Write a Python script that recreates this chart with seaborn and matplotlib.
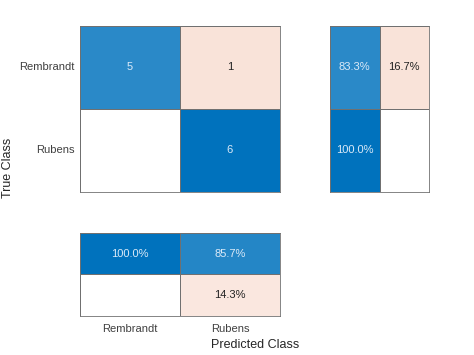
import numpy as np
import matplotlib
matplotlib.use("Agg")
import matplotlib.pyplot as plt
from matplotlib.colors import LinearSegmentedColormap
import seaborn as sns

classes = ["Rembrandt", "Rubens"]
counts = [[5, 1], [0, 6]]
row_pct = [[83.3, 16.7], [100.0, 0.0]]
col_pct = [[100.0, 85.7], [0.0, 14.3]]

sns.set_style("white")
plt.rcParams["font.family"] = ["Liberation Sans", "DejaVu Sans"]

cmap = LinearSegmentedColormap.from_list(
    "cc", [(217/255, 83/255, 25/255), (1, 1, 1), (0, 114/255, 189/255)], N=257)

LIGHT_TXT = "#dbeaf8"
DARK_TXT = "#222222"
EDGE = "#707070"
LW = 0.6


def signed(mat, diag_rule):
    m = np.array(mat, dtype=float)
    s = np.zeros_like(m)
    for i in range(m.shape[0]):
        for j in range(m.shape[1]):
            s[i, j] = m[i, j] if diag_rule(i, j) else -m[i, j]
    return s


def draw(ax, mat, labels, diag_rule, vmax):
    s = signed(mat, diag_rule)
    sns.heatmap(s, ax=ax, cmap=cmap, vmin=-vmax, vmax=vmax, cbar=False,
                annot=np.array(labels, dtype=object), fmt="",
                annot_kws={"fontsize": 8},
                linewidths=LW, linecolor=EDGE, square=False)
    for t, v in zip(ax.texts, s.flatten()):
        t.set_color(LIGHT_TXT if v > 0 else DARK_TXT)
    for sp in ax.spines.values():
        sp.set_visible(True)
        sp.set_color(EDGE)
        sp.set_linewidth(LW)
    ax.tick_params(length=0)


fig = plt.figure(figsize=(4.74, 3.55), dpi=100)
ax_main = fig.add_axes([0.1688, 0.4592, 0.4219, 0.4676])
ax_row = fig.add_axes([0.6962, 0.4592, 0.2089, 0.4676])
ax_col = fig.add_axes([0.1688, 0.1099, 0.4219, 0.2338])

main_lbl = [[str(v) if v else "" for v in r] for r in counts]
draw(ax_main, counts, main_lbl, lambda i, j: i == j, max(max(r) for r in counts))
row_lbl = [[f"{v:.1f}%" if v else "" for v in r] for r in row_pct]
draw(ax_row, row_pct, row_lbl, lambda i, j: j == 0, 100)
col_lbl = [[f"{v:.1f}%" if v else "" for v in r] for r in col_pct]
draw(ax_col, col_pct, col_lbl, lambda i, j: i == 0, 100)

ax_main.set_xticks([])
ax_main.set_yticks(np.arange(len(classes)) + 0.5)
ax_main.set_yticklabels(classes, rotation=0, fontsize=8, color="#404040")
ax_main.tick_params(axis="y", pad=4)
ax_row.set_xticks([])
ax_row.set_yticks([])
ax_col.set_yticks([])
ax_col.set_xticks(np.arange(len(classes)) + 0.5)
ax_col.set_xticklabels(classes, fontsize=8, color="#404040")
ax_col.tick_params(axis="x", pad=6)

fig.text(255 / 474, 1 - 345 / 355, "Predicted Class", ha="center", va="center",
         fontsize=9, color="#262626")
fig.text(8 / 474, 1 - 168 / 355, "True Class", ha="center", va="center",
         rotation=90, fontsize=9, color="#262626")

fig.savefig("out.png", dpi=100)
